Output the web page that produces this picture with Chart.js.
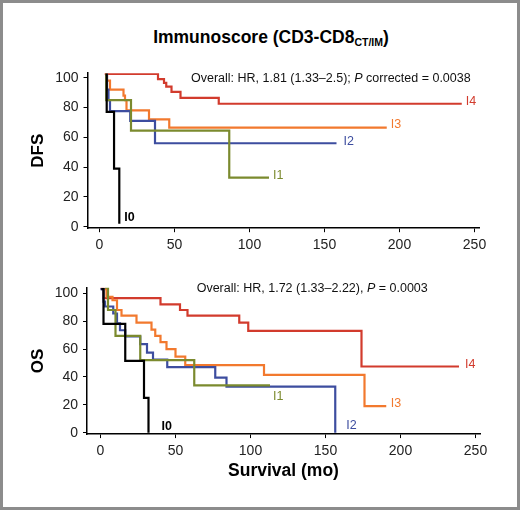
<!DOCTYPE html>
<html>
<head>
<meta charset="utf-8">
<script src="https://cdn.jsdelivr.net/npm/chart.js@4.4.1/dist/chart.umd.min.js"></script>
<style>
  body { margin: 0; background: #fff; }
  #page { position: relative; width: 520px; height: 510px; overflow: hidden; font-family: "Liberation Sans", Arial, sans-serif; color: #000; }
  #frame { position: absolute; left: 0; top: 0; width: 520px; height: 510px; box-sizing: border-box; border: 3px solid #8c8c8c; }
  canvas { position: absolute; left: 0; }
  #title { position: absolute; left: 11px; top: 26.6px; width: 520px; text-align: center; font-weight: bold; font-size: 17.5px; line-height: 20px; white-space: nowrap; }
  #title span { font-size: 10.5px; vertical-align: -3px; line-height: 0; }
  .note { position: absolute; font-size: 12.5px; line-height: 14px; white-space: nowrap; color: #111; }
</style>
</head>
<body>
<div id="page">
  <div id="title">Immunoscore (CD3-CD8<span>CT/IM</span>)</div>
  <canvas id="dfs" width="520" height="205" style="top:55px"></canvas>
  <canvas id="os" width="520" height="220" style="top:270px"></canvas>
  <div class="note" style="left:191px; top:71px">Overall: HR, 1.81 (1.33–2.5); <i>P</i> corrected = 0.0038</div>
  <div class="note" style="left:196.7px; top:280.5px">Overall: HR, 1.72 (1.33–2.22), <i>P</i> = 0.0003</div>
  <div id="frame"></div>
</div>
<script>
const groups = ['I0', 'I1', 'I2', 'I3', 'I4'];
const xTicks = [0, 50, 100, 150, 200, 250];
const yTicks = [0, 20, 40, 60, 80, 100];

// DFS: time (mo) of each step and survival (%) after it
const dfsI0Time = [4, 4.8, 9.7, 13.2];
const dfsI0Surv = [102, 77, 39, 2];
const dfsI1Time = [4, 4.5, 21, 86.5, 113];
const dfsI1Surv = [102, 85, 64.5, 33, 33];
const dfsI2Time = [4.5, 5, 6, 7, 20.5, 37, 158];
const dfsI2Surv = [102, 92, 85, 77.5, 71, 56, 56];
const dfsI3Time = [4, 5, 7, 16, 17, 18, 33, 46.5, 191.5];
const dfsI3Surv = [102, 98, 92, 88, 85, 78, 72, 66.5, 66.5];
const dfsI4Time = [3.5, 39, 43, 44.5, 48, 54, 79.5, 241.5];
const dfsI4Surv = [102.5, 99, 96.5, 94, 90.5, 86.5, 82.5, 82.5];

// OS
const osI0Time = [0.5, 2, 16.5, 29, 32];
const osI0Surv = [103, 78, 51.5, 25, 0];
const osI1Time = [3, 5, 10, 26.5, 62.5, 113];
const osI1Surv = [104, 88, 69.5, 52, 34, 34];
const osI2Time = [0, 2, 3, 8.5, 11, 13, 16.5, 26.5, 31, 35, 44.5, 76.5, 84, 156.5];
const osI2Surv = [103, 94, 90.5, 85.5, 78.5, 73.5, 69, 63.5, 57.5, 52.5, 47, 39.5, 33, 0];
const osI3Time = [3, 4, 8, 11, 14, 24, 34, 36.5, 40, 44, 50, 56.5, 109, 176, 190.5];
const osI3Surv = [103, 97.5, 95, 88, 84, 79, 74, 69.5, 65, 60, 54.5, 48.5, 41.5, 19, 19];
const osI4Time = [0, 2, 40, 53, 58, 92.5, 98.5, 174, 239];
const osI4Surv = [103.5, 96.5, 92, 88, 84, 79, 73, 47.5, 47.5];

const colors = ['#000000', '#7b8a2e', '#3d4d9f', '#f2792e', '#d23b2d'];

Chart.defaults.font.family = '"Liberation Sans", Arial, sans-serif';

function pts(t, s) {
  return t.map((x, i) => ({ x: x, y: s[i] }));
}

function makeSets(times, survs) {
  return groups.map((g, i) => ({
    label: g,
    data: pts(times[i], survs[i]),
    borderColor: colors[i],
    borderWidth: 2.2,
    stepped: true,
    pointRadius: 0,
    fill: false
  }));
}

// draw I0..I4 next to the end of each curve
const endLabels = {
  id: 'endLabels',
  afterDatasetsDraw(chart, args, opts) {
    const ctx = chart.ctx;
    const xs = chart.scales.x, ys = chart.scales.y;
    chart.data.datasets.forEach((ds, i) => {
      const last = ds.data[ds.data.length - 1];
      const off = opts.offsets[i];
      ctx.save();
      ctx.font = (i === 0 ? 'bold ' : '') + '12.5px "Liberation Sans", Arial, sans-serif';
      ctx.fillStyle = ds.borderColor;
      ctx.textBaseline = 'middle';
      ctx.fillText(ds.label, xs.getPixelForValue(last.x) + off[0], ys.getPixelForValue(last.y) + off[1]);
      ctx.restore();
    });
  }
};

function makeChart(id, sets, o) {
  return new Chart(document.getElementById(id), {
    type: 'line',
    data: { datasets: sets },
    plugins: [endLabels],
    options: {
      responsive: false,
      animation: false,
      layout: { padding: { left: 0, right: o.padRight, top: o.padTop, bottom: 0 } },
      plugins: {
        legend: { display: false },
        tooltip: { enabled: false },
        endLabels: { offsets: o.offsets }
      },
      scales: {
        x: {
          type: 'linear',
          min: o.xMin,
          max: 253,
          afterBuildTicks: s => { s.ticks = xTicks.map(v => ({ value: v })); },
          afterFit: s => { s.height = o.xHeight; },
          border: { color: '#000', width: 1.5 },
          grid: { drawOnChartArea: false, color: '#000', tickLength: 4 },
          ticks: { color: '#222', font: { size: 14 }, padding: 5, maxRotation: 0 },
          title: {
            display: !!o.xTitle,
            text: o.xTitle || '',
            color: '#000',
            font: { size: 17.5, weight: 'bold' },
            padding: { top: 0, bottom: 8 }
          }
        },
        y: {
          min: -1,
          max: o.yMax,
          afterBuildTicks: s => { s.ticks = yTicks.map(v => ({ value: v })); },
          afterFit: s => { s.width = o.yWidth; },
          border: { color: '#000', width: 1.5 },
          grid: { drawOnChartArea: false, color: '#000', tickLength: 4 },
          ticks: { color: '#222', font: { size: 14 }, padding: 5 },
          title: {
            display: true,
            text: o.yTitle,
            color: '#000',
            font: { size: 17, weight: 'bold' },
            padding: { top: 28.6, bottom: 0 }
          }
        }
      }
    }
  });
}

makeChart('dfs',
  makeSets([dfsI0Time, dfsI1Time, dfsI2Time, dfsI3Time, dfsI4Time],
           [dfsI0Surv, dfsI1Surv, dfsI2Surv, dfsI3Surv, dfsI4Surv]),
  { xMin: -8, yMax: 103, yWidth: 87.5, xHeight: 31.8, padTop: 18.2, padRight: 41,
    yTitle: 'DFS', offsets: [[5, -6], [4, -2], [7, -2], [4, -3], [4, -2]] });

makeChart('os',
  makeSets([osI0Time, osI1Time, osI2Time, osI3Time, osI4Time],
           [osI0Surv, osI1Surv, osI2Surv, osI3Surv, osI4Surv]),
  { xMin: -9, yMax: 104, yWidth: 87, xHeight: 55.9, padTop: 17.7, padRight: 40,
    yTitle: 'OS', xTitle: 'Survival (mo)', offsets: [[13, -6], [3, 11], [11, -7], [4.5, -3], [6, -2]] });
</script>
</body>
</html>
